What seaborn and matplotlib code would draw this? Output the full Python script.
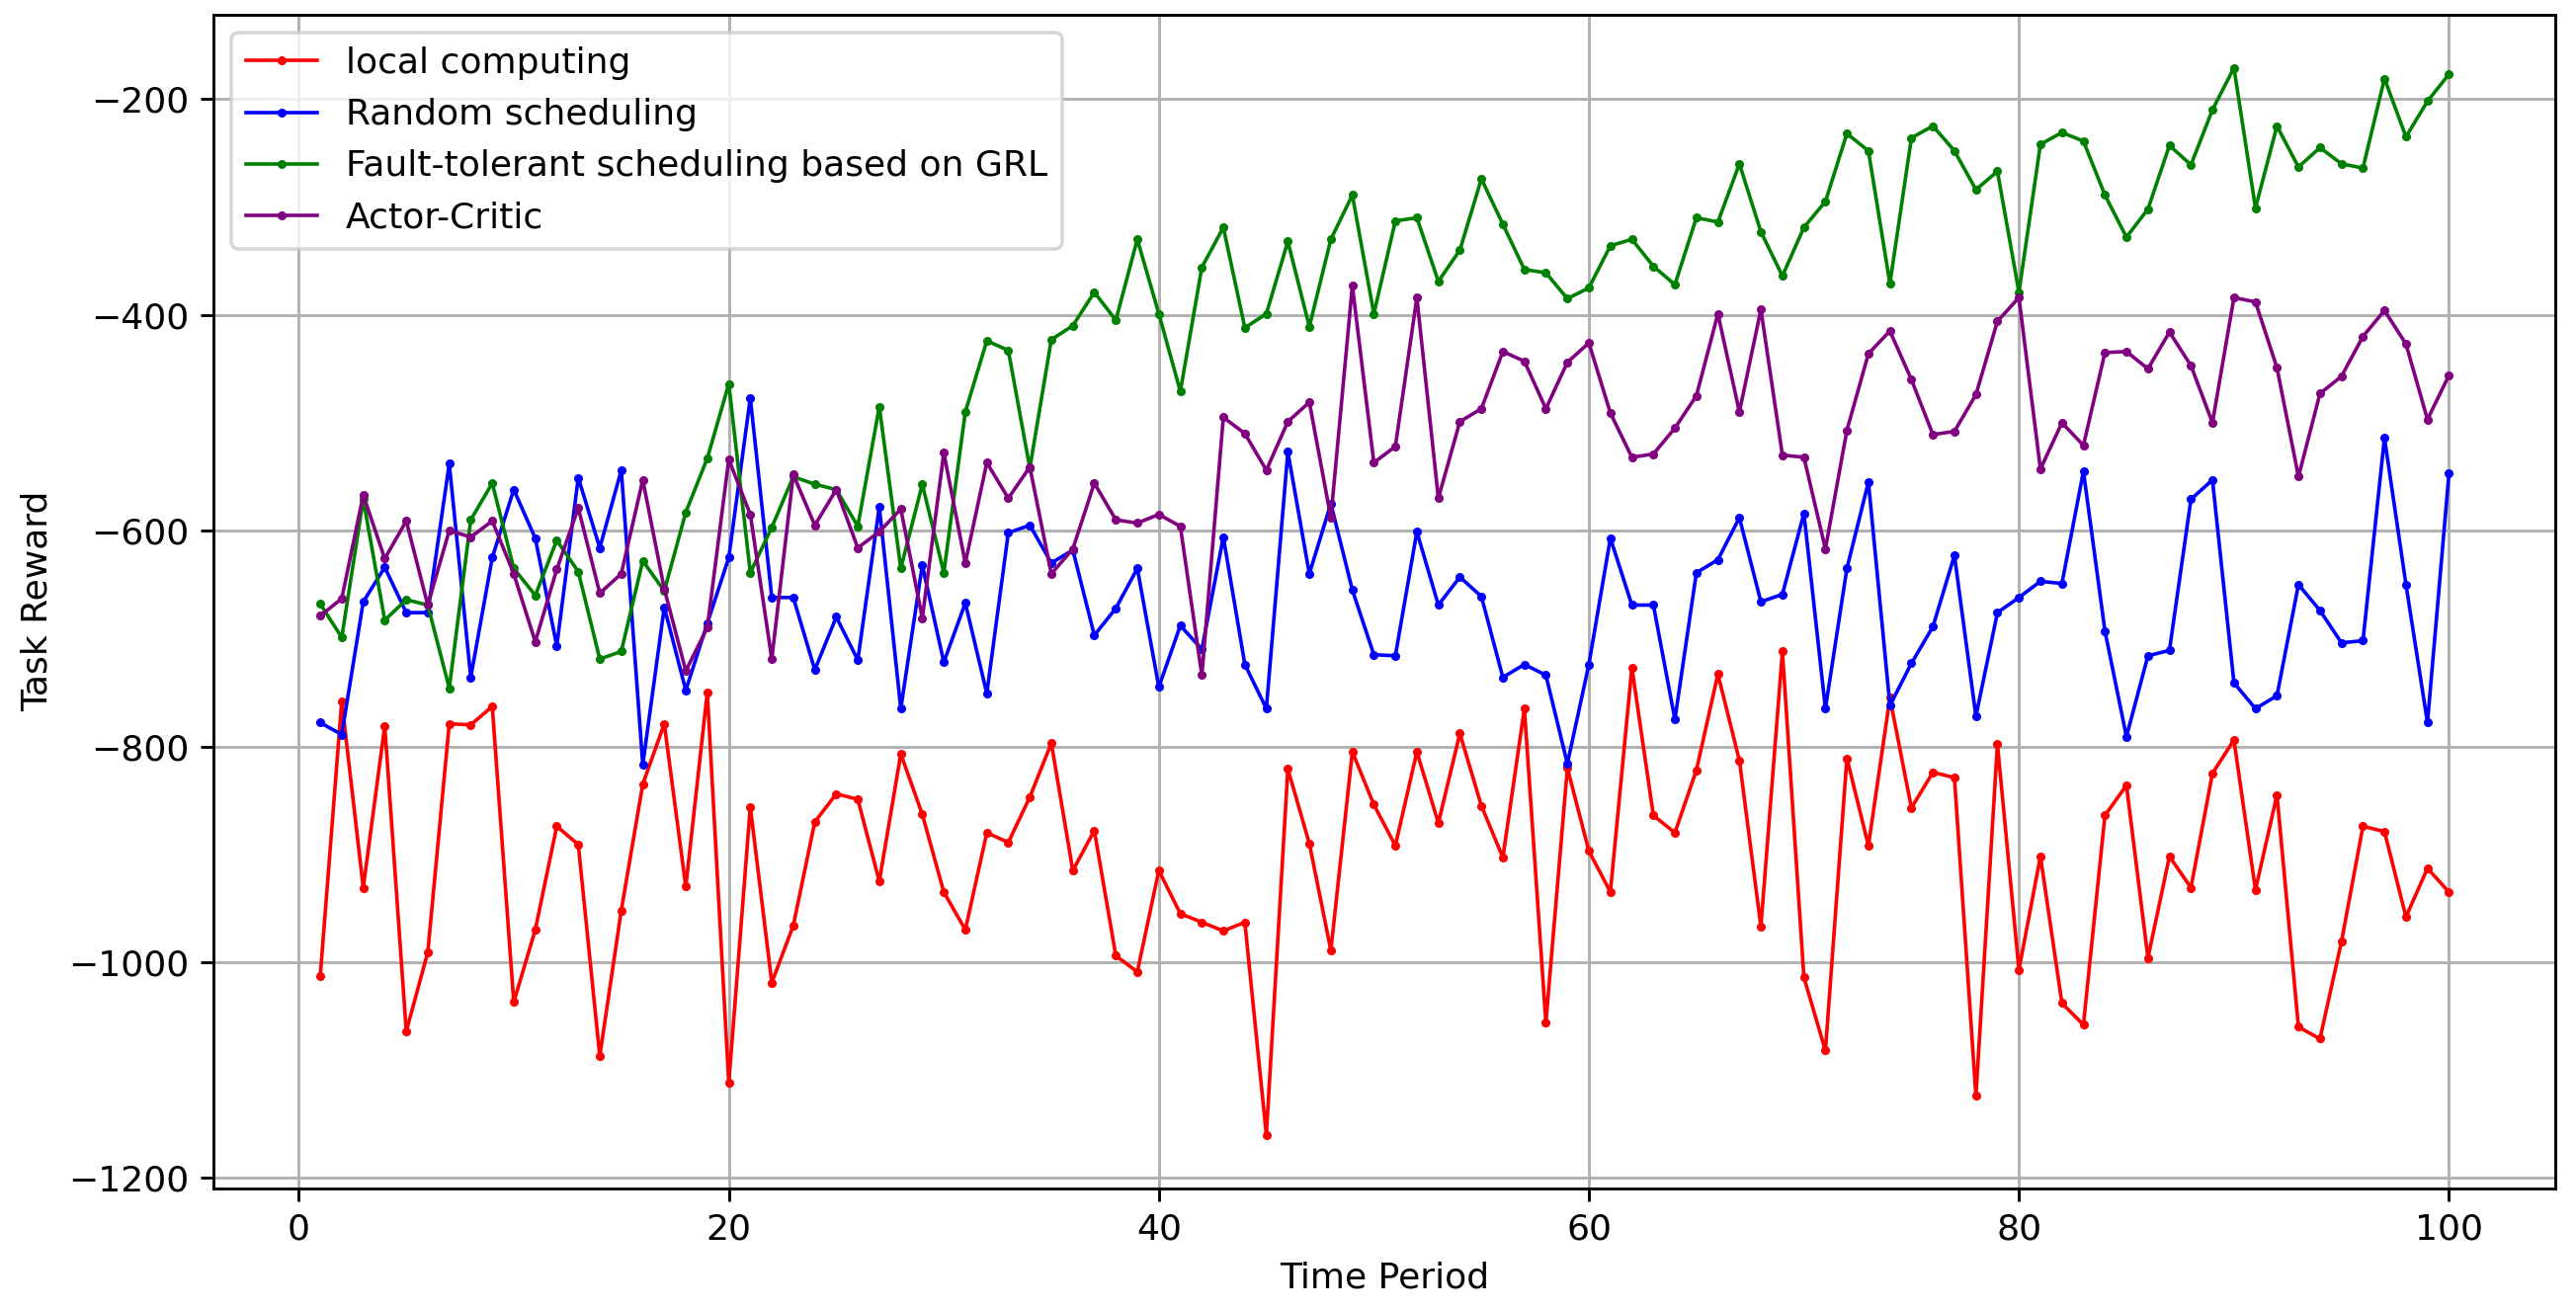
import numpy as np
import pandas as pd
import matplotlib
matplotlib.use("Agg")
import matplotlib.pyplot as plt
import seaborn as sns

# 时间段 1..100
periods = list(range(1, 101))

local_computing = [
    -1013, -758, -931, -781, -1064, -991, -779, -780, -763, -1037,
    -970, -874, -891, -1087, -952, -835, -779, -930, -750, -1112,
    -856, -1019, -966, -870, -844, -849, -925, -807, -863, -935,
    -970, -880, -889, -847, -797, -915, -878, -994, -1009, -915,
    -955, -963, -971, -963, -1160, -821, -890, -989, -805, -854,
    -892, -805, -871, -788, -855, -903, -765, -1056, -820, -897,
    -935, -727, -864, -880, -822, -733, -813, -967, -712, -1014,
    -1082, -811, -892, -755, -857, -824, -829, -1124, -798, -1007,
    -902, -1038, -1058, -864, -836, -996, -902, -931, -825, -794,
    -933, -845, -1060, -1071, -981, -874, -879, -958, -913, -935,
]

random_scheduling = [
    -778, -789, -666, -634, -676, -676, -538, -736, -625, -562,
    -607, -707, -551, -616, -544, -817, -671, -748, -686, -625,
    -477, -662, -662, -729, -680, -720, -578, -765, -632, -722,
    -667, -751, -602, -595, -630, -618, -697, -672, -635, -745,
    -688, -710, -606, -724, -765, -527, -640, -575, -655, -715,
    -716, -601, -669, -643, -661, -736, -724, -734, -816, -724,
    -607, -669, -669, -775, -639, -627, -588, -666, -659, -584,
    -765, -635, -555, -762, -723, -689, -623, -772, -676, -662,
    -647, -649, -545, -693, -791, -716, -711, -571, -553, -741,
    -765, -753, -650, -674, -704, -702, -514, -650, -778, -547,
]

grl_scheduling = [
    -668, -699, -571, -683, -664, -669, -746, -590, -556, -635,
    -660, -609, -638, -719, -712, -628, -656, -583, -533, -464,
    -639, -597, -550, -557, -562, -596, -485, -635, -557, -639,
    -490, -424, -433, -542, -423, -410, -379, -405, -330, -399,
    -471, -356, -319, -412, -399, -332, -411, -330, -289, -399,
    -313, -310, -369, -340, -274, -316, -358, -361, -385, -375,
    -336, -330, -355, -372, -310, -314, -260, -323, -364, -319,
    -295, -232, -248, -371, -236, -225, -248, -284, -267, -379,
    -242, -231, -239, -289, -328, -302, -243, -261, -210, -171,
    -301, -225, -263, -245, -260, -264, -181, -235, -202, -177,
]

actor_critic = [
    -679, -663, -567, -626, -591, -669, -600, -606, -591, -640,
    -703, -636, -579, -658, -640, -553, -654, -730, -690, -534,
    -585, -719, -548, -595, -562, -616, -601, -580, -681, -528,
    -630, -537, -570, -541, -640, -617, -556, -590, -593, -585,
    -596, -734, -495, -510, -544, -499, -481, -588, -373, -537,
    -522, -384, -570, -499, -487, -434, -443, -487, -444, -426,
    -491, -532, -529, -505, -475, -399, -490, -395, -530, -532,
    -617, -507, -436, -415, -460, -511, -508, -474, -406, -384,
    -543, -500, -521, -435, -434, -450, -416, -447, -500, -384,
    -388, -449, -550, -473, -457, -420, -396, -427, -497, -456,
]

series_names = [
    "local computing",
    "Random scheduling",
    "Fault-tolerant scheduling based on GRL",
    "Actor-Critic",
]
series_values = [local_computing, random_scheduling, grl_scheduling, actor_critic]
series_colors = ["red", "blue", "green", "purple"]

fig, ax = plt.subplots(figsize=(10.027, 5.1), dpi=260)
fig.subplots_adjust(left=0.083, right=0.992, bottom=0.093, top=0.989)

for name, vals, col in zip(series_names, series_values, series_colors):
    df = pd.DataFrame({"period": periods, "reward": vals})
    sns.lineplot(data=df, x="period", y="reward", ax=ax, color=col, label=name,
                 marker="o", markersize=2, markeredgecolor=col, markeredgewidth=0.5,
                 linewidth=1.0)

ax.set_xlabel("Time Period")
ax.set_ylabel("Task Reward")
ax.grid(True)
ax.legend(loc="upper left")

fig.savefig("out.png", dpi=260)
